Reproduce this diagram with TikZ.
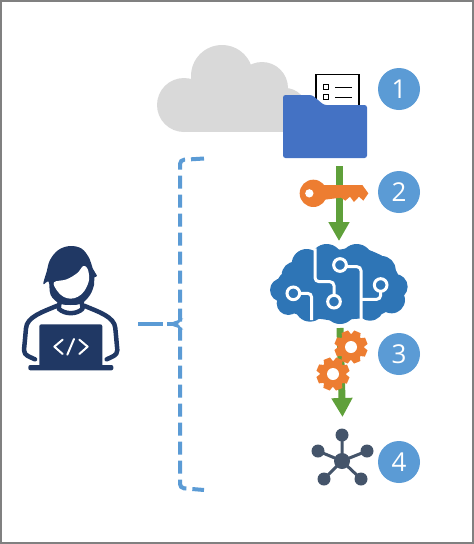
\documentclass[tikz,border=0pt]{standalone}
\usepackage{fontspec}
\setsansfont{Open Sans}
\usetikzlibrary{arrows.meta}
\definecolor{PicBadge}{RGB}{91,155,213}
\definecolor{PicCloud}{RGB}{217,217,217}
\definecolor{PicFolder}{RGB}{68,114,196}
\definecolor{PicBrain}{RGB}{46,117,182}
\definecolor{PicOrange}{RGB}{237,125,49}
\definecolor{PicGreen}{RGB}{95,160,58}
\definecolor{PicHub}{RGB}{68,84,106}
\definecolor{PicDev}{RGB}{32,56,100}
\definecolor{PicFrame}{RGB}{128,128,128}
\tikzset{
  pic badge/.style={
    circle,
    fill=PicBadge,
    text=white,
    inner sep=0pt,
    minimum size=42pt,
    font=\fontsize{26}{26}\selectfont\sffamily
  },
  pic flow/.style={-{Triangle[length=19pt,width=20pt]}, line width=7pt, PicGreen},
  pic dash/.style={line width=4pt, PicBadge, dash pattern=on 13pt off 6pt},
  pic wire/.style={line width=3pt, white, rounded corners=4pt},
  pic ring/.style={line width=3pt, white},
  pic spoke/.style={line width=3pt, PicHub},
  pic body/.style={line width=4.5pt, PicDev, line cap=round, line join=round},
  pic code/.style={line width=2pt, white, line cap=round, line join=round},
  pic cog/.pic={
    \fill[PicOrange] (0,0) circle (13.2);
    \foreach \ang in {0,45,...,315}{
      \fill[PicOrange, rotate=\ang+22] (-5,-11) -- (-3.4,-16.5) -- (3.4,-16.5) -- (5,-11) -- cycle;
    }
    \fill[white] (0,0) circle (6);
  }
}
\begin{document}
\begin{tikzpicture}[x=1pt,y=-1pt]
\useasboundingbox (0,0) rectangle (474,544);
\draw[PicFrame, line width=2pt] (1,1) rectangle (473,542.5);

\fill[PicCloud] (184,105) circle (27) (222,76) circle (31) (262,88) circle (26) (285,110) circle (22);
\fill[PicCloud] (184,85) rectangle (285,132);

\draw[black, fill=white, line width=1.1pt] (316,110) |- (359,74.5) -- (359,110);
\draw[black, line width=1pt] (323.5,84.5) rectangle (328.5,89.5) (323.5,94.5) rectangle (328.5,99.5);
\draw[black, line width=0.9pt] (335,87) -- (352,87) (335,97) -- (352,97);
\fill[PicFolder, rounded corners=2.5pt] (283,158) -- (283,95) -- (312,95) -- (324,105) -- (367,105) -- (367,158) -- cycle;

\coordinate (keyflow) at (339,166);
\coordinate (brainin) at (339,241);
\draw[pic flow] (keyflow) -- (brainin);

\begin{scope}[shift={(150,30)},scale=1/3]
\fill[PicOrange] (490,490) circle (41);
\fill[PicOrange] (500,465) -- (637,465) -- (655,490) -- (640,512) -- (627,500) -- (612,516) -- (600,500) -- (586,512) -- (573,503) -- (500,512) -- cycle;
\fill[white] (478,490) circle (12.5);
\end{scope}

\begin{scope}[shift={(260,240)},scale=1/3]
\fill[PicBrain] (200,60) circle (48) (290,60) circle (48) (140,72) circle (45) (105,105) circle (40)
  (65,150) circle (35) (85,190) circle (35) (150,200) circle (45) (240,205) circle (47)
  (330,200) circle (42) (395,180) circle (40) (405,140) circle (38) (365,90) circle (42);
\begin{scope}[shift={(14,8)},scale=0.94]
\fill[PicBrain] plot[smooth cycle] coordinates {(240,22) (290,12) (345,28) (395,55) (425,100) (442,150) (420,195) (380,225) (330,240) (280,244) (240,252) (190,245) (130,236) (85,222) (50,195) (30,150) (50,105) (85,80) (110,45) (160,25) (200,12)};
\end{scope}
\draw[pic wire] (165,25) -- (165,125) -- (222,125) -- (222,166);
\draw[pic wire] (259,80) -- (303,80) -- (303,247);
\draw[pic wire] (120,160) -- (155,160) -- (155,240);
\draw[pic wire] (362,155) -- (362,178) -- (303,178);
\draw[pic ring] (222,185) circle (19) (240,75) circle (19) (100,160) circle (19) (362,135) circle (19);
\end{scope}

\coordinate (brainout) at (340,328);
\coordinate (hubin) at (342.5,417);
\draw[pic flow] (brainout) -- (hubin);
\pic at (351,347) {pic cog};
\pic at (333,374) {pic cog};

\coordinate (hubmid) at (342,461);
\coordinate (hubn) at (342,435);
\coordinate (hubw) at (318,451);
\coordinate (hube) at (367,451);
\coordinate (hubsw) at (324,479);
\coordinate (hubse) at (361,479);
\draw[pic spoke] (hubmid) -- (hubn) (hubmid) -- (hubw) (hubmid) -- (hube) (hubmid) -- (hubsw) (hubmid) -- (hubse);
\fill[PicHub] (hubmid) circle (8) (hubn) circle (6.5) (hubw) circle (6.5) (hube) circle (6.5) (hubsw) circle (6.5) (hubse) circle (6.5);

\node[pic badge] (badge1) at (399,89) {1};
\node[pic badge] (badge2) at (399,192) {2};
\node[pic badge] (badge3) at (399,354) {3};
\node[pic badge] (badge4) at (399,462) {4};

\coordinate (brtop) at (204,158.5);
\coordinate (brbot) at (204,490);
\draw[pic dash, rounded corners=4pt] (brtop) -- (180,160) -- (180,488) -- (brbot);
\coordinate (devout) at (138,324);
\coordinate (brmid) at (183,324);
\draw[line width=4pt, PicBadge, dash pattern=on 25pt off 4pt on 20pt, -{Stealth[length=16pt,width=11pt,reversed]}] (devout) -- (brmid);

\begin{scope}[shift={(0,140)},scale=1/3]
\fill[PicDev] plot[smooth cycle, tension=0.6] coordinates {(130,432) (140,395) (150,360) (175,330) (210,318) (245,326) (268,355) (278,385) (291,408) (283,412) (282,435) (270,465) (245,490) (212,495) (178,490) (152,465) (146,425)};
\fill[white] plot[smooth cycle, tension=0.6] coordinates {(162,427) (200,418) (232,399) (250,378) (263,387) (267,420) (253,453) (234,470) (212,476) (190,470) (172,453)};
\draw[pic body] (105,658) .. controls (90,650) and (72,648) .. (72,630) -- (78,565) .. controls (80,530) and (130,515) .. (172,497);
\draw[pic body] (320,658) .. controls (335,650) and (352,648) .. (352,630) -- (346,565) .. controls (344,530) and (294,515) .. (252,497);
\draw[pic body] (179,486) -- (176,506) .. controls (195,524) and (230,524) .. (248,506) -- (245,486);
\fill[PicDev, rounded corners=2pt] (118,682) -- (118,553) -- (307,553) -- (307,682) -- cycle;
\fill[PicDev, rounded corners=2pt] (85,675) -- (340,675) -- (340,691) -- (85,691) -- cycle;
\draw[pic code] (188,599) -- (163,620) -- (188,642);
\draw[pic code] (222,597) -- (202,644);
\draw[pic code] (238,599) -- (263,620) -- (238,642);
\end{scope}
\end{tikzpicture}
\end{document}
